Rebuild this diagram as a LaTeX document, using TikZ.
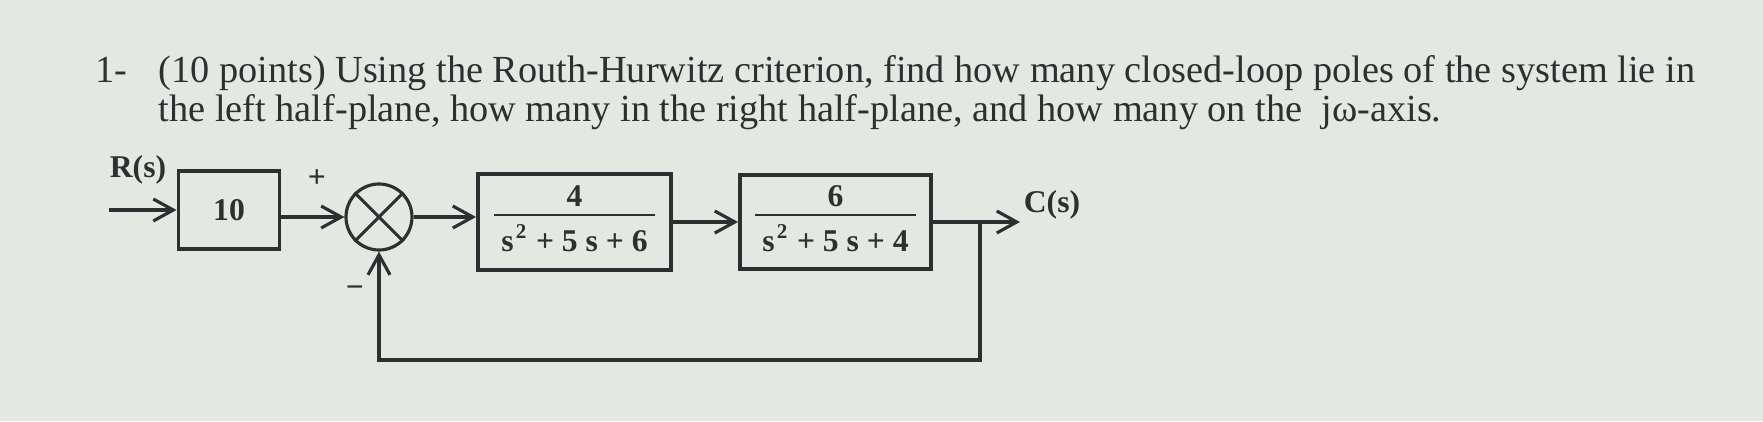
\documentclass[tikz,border=0pt]{standalone}
\usepackage{amsmath}
\usepackage{fontspec}
\setmainfont{Liberation Serif}
\usetikzlibrary{arrows.meta}

\definecolor{screen}{RGB}{229,231,226}
\definecolor{ink}{RGB}{44,48,48}

\setlength{\arrayrulewidth}{0.8pt}
% fraction inside a block
\newcommand{\blockfrac}[2]{\begin{tabular}{@{\hspace{2pt}}c@{\hspace{2pt}}}#1\\[-1pt]\hline\rule{0pt}{10pt}#2\end{tabular}}

\tikzset{
	block/.style={draw=ink,line width=1.1pt,inner sep=0pt,text=ink,font=\fontsize{9}{10}\selectfont\bfseries},
	sig/.style={draw=ink,line width=0.9pt,-{Straight Barb[length=2mm,width=2.2mm]}},
	lbl/.style={text=ink,inner sep=0pt,font=\fontsize{9}{10}\selectfont\bfseries},
	question/.style={text=ink,inner sep=0pt,anchor=base west,font=\fontsize{10.9}{13}\selectfont}
}

\begin{document}
\begin{tikzpicture}
	\fill[screen] (0,0) rectangle (17.63,-4.21);
	\useasboundingbox (0,0) rectangle (17.63,-4.21);

	%question text
	\node[question] (num)   at (0.95,-0.82) {1-};
	\node[question] (line1) at (1.58,-0.82) {(10 points) Using the Routh-Hurwitz criterion, find how many closed-loop poles of the system lie in};
	\node[question] (line2) at (1.58,-1.21) {the left half-plane, how many in the right half-plane, and how many on the\enspace jω-axis.};

	%blocks
	\node[block,minimum width=1.01cm,minimum height=0.78cm] (gain) at (2.29,-2.10) {10};
	\node[circle,draw=ink,line width=0.9pt,minimum size=0.66cm,inner sep=0pt] (sum) at (3.79,-2.17) {};
	\draw[ink,line width=0.9pt] (sum.north west) -- (sum.south east) (sum.north east) -- (sum.south west);
	\node[block,minimum width=1.93cm,minimum height=0.96cm] (plantA) at (5.745,-2.22) {\blockfrac{4}{s\kern0.6pt\textsuperscript{2} + 5 s + 6}};
	\node[block,minimum width=1.91cm,minimum height=0.94cm] (plantB) at (8.355,-2.22) {\blockfrac{6}{s\kern0.6pt\textsuperscript{2} + 5 s + 4}};

	%labels
	\node[lbl] (rlabel) at (1.38,-1.70) {R(s)};
	\node[lbl] (clabel) at (10.52,-2.05) {C(s)};
	\node[lbl] (plus)   at (3.17,-1.79) {+};
	\node[lbl] (minus)  at (3.55,-2.92) {−};

	%signal lines
	\coordinate (rin)    at (1.09,-2.10);
	\coordinate (cout)   at (10.20,-2.22);
	\coordinate (branch) at (9.80,-2.22);
	\coordinate (fbturn) at (3.79,-3.60);
	\draw[sig] (rin) -- (gain.west);
	\draw[sig] (gain.east |- sum.west) -- (sum.west);
	\draw[sig] (sum.east) -- (sum.east -| plantA.west);
	\draw[sig] (plantA.east) -- (plantB.west);
	\draw[sig] (plantB.east) -- (cout);
	\draw[sig] (branch) |- (fbturn) -- (sum.south);
\end{tikzpicture}
\end{document}
